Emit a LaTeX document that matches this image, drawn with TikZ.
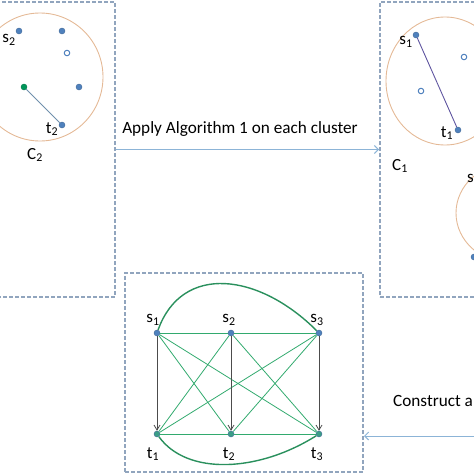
\documentclass[tikz,border=0pt]{standalone}
\usepackage{fontspec}
\setmainfont{Carlito}
\usetikzlibrary{arrows.meta, shapes.geometric}
\definecolor{boxgray}{RGB}{145, 165, 190}
\definecolor{clusterorange}{RGB}{228, 185, 150}
\definecolor{dotblue}{RGB}{79, 129, 189}
\definecolor{dotgreen}{RGB}{0, 150, 90}
\definecolor{edgegreen}{RGB}{50, 170, 110}
\definecolor{flowblue}{RGB}{140, 180, 215}
\definecolor{pathpurple}{RGB}{95, 85, 160}

\begin{document}
\begin{tikzpicture}[x=1pt, y=-1pt,
                stagebox/.style={draw=boxgray, line width=2pt, dash pattern=on 4pt off 2pt,
                    inner sep=0pt},
                cluster/.style={ellipse, draw=clusterorange, line width=0.9pt, inner sep=0pt},
                vtx/.style={circle, fill=dotblue, draw=dotblue!80!black, line width=0.4pt,
                    inner sep=0pt, minimum size=6pt},
                hollowvtx/.style={circle, draw=dotblue, fill=white, line width=1pt,
                    inner sep=0pt, minimum size=5.5pt},
                lbl/.style={font=\fontsize{17}{19}\selectfont, inner sep=0pt},
                flow/.style={draw=flowblue, line width=1pt, -{Straight Barb[length=4pt, width=8pt]}},
                flowtext/.style={font=\fontsize{17.2}{20}\selectfont, inner sep=0pt},
                pairarrow/.style={draw=black!70, line width=0.8pt, -{Straight Barb[length=5pt, width=6pt]}},
                crossedge/.style={draw=edgegreen, line width=0.8pt},
                arcedge/.style={draw=edgegreen!85!black, line width=1.4pt}
            ]
            \clip (0, 0) rectangle (474, 474);

            % stages
            \node[stagebox, minimum width=130pt, minimum height=295pt] (leftbox) at (50, 149.5) {};
            \node[stagebox, minimum width=110pt, minimum height=295pt] (rightbox) at (435, 149.5) {};
            \node[stagebox, minimum width=238pt, minimum height=199pt] (graphbox) at (244, 372.5) {};

            % cluster C2
            \node[cluster, minimum width=126pt, minimum height=128pt] (ctwo) at (40, 77) {};
            \node[vtx] (stwo) at (19, 31) {};
            \node[vtx] (atwo) at (62, 31) {};
            \node[hollowvtx] (btwo) at (67, 53) {};
            \node[vtx, fill=dotgreen, draw=dotgreen!80!black] (gtwo) at (24, 87) {};
            \node[vtx] (dtwo) at (79, 87) {};
            \node[vtx] (ttwo) at (62, 125) {};
            \draw[draw=flowblue!80!black, line width=0.9pt] (gtwo) -- (ttwo);
            \node[lbl] at (9, 40) {s\textsubscript{2}};
            \node[lbl] at (52, 129) {t\textsubscript{2}};
            \node[lbl] at (35, 155) {C\textsubscript{2}};

            % cluster C1
            \node[cluster, minimum width=118pt, minimum height=128pt] (cone) at (445, 81) {};
            \node[vtx] (sone) at (416, 35) {};
            \node[hollowvtx] (aone) at (464, 57) {};
            \node[hollowvtx] (bone) at (421, 91) {};
            \node[vtx] (tone) at (458, 130) {};
            \draw[draw=pathpurple, line width=0.9pt] (sone) -- (tone);
            \node[lbl] at (406, 42) {s\textsubscript{1}};
            \node[lbl] at (447, 133) {t\textsubscript{1}};
            \node[lbl] at (400, 166) {C\textsubscript{1}};

            % cluster C3 (cut off)
            \node[cluster, minimum width=110pt, minimum height=100pt] (cthree) at (511, 213) {};
            \node[vtx] (tthree) at (474, 257) {};
            \node[lbl, anchor=west] at (467, 178) {s};

            % Algorithm 1
            \node[flowtext] (applytext) at (240, 129) {Apply Algorithm 1 on each cluster};
            \draw[flow] (leftbox.east) -- (rightbox.west);

            % construct
            \coordinate (constructstart) at (480, 436);
            \node[flowtext, anchor=west] (constructtext) at (393, 401) {Construct a};
            \draw[flow] (constructstart) -- (graphbox.east |- constructstart);

            % terminals
            \node[vtx] (s1) at (157, 333) {};
            \node[vtx] (s2) at (231, 333) {};
            \node[vtx] (s3) at (319, 333) {};
            \node[vtx, fill=edgegreen!70!dotblue] (t1) at (157, 434) {};
            \node[vtx, fill=edgegreen!70!dotblue] (t2) at (231, 434) {};
            \node[vtx, fill=edgegreen!70!dotblue] (t3) at (319, 434) {};
            \node[lbl] at (153, 320) {s\textsubscript{1}};
            \node[lbl] at (229, 320) {s\textsubscript{2}};
            \node[lbl] at (317, 320) {s\textsubscript{3}};
            \node[lbl] at (153, 454) {t\textsubscript{1}};
            \node[lbl] at (229, 454) {t\textsubscript{2}};
            \node[lbl] at (317, 454) {t\textsubscript{3}};

            % complete graph edges
            \draw[crossedge] (s1) -- (s2) -- (s3);
            \draw[crossedge] (t1) -- (t2) -- (t3);
            \foreach \i/\j in {1/2, 1/3, 2/1, 2/3, 3/1, 3/2}
                \draw[crossedge] (s\i) -- (t\j);
            \draw[arcedge] (s1) .. controls +(25, -70) and +(-60, -60) .. (s3);
            \draw[arcedge] (t1) .. controls +(30, 42) and +(-60, 38) .. (t3);
            \foreach \i in {1, 2, 3}
                \draw[pairarrow] (s\i) -- (t\i);

            \end{tikzpicture}
\end{document}
